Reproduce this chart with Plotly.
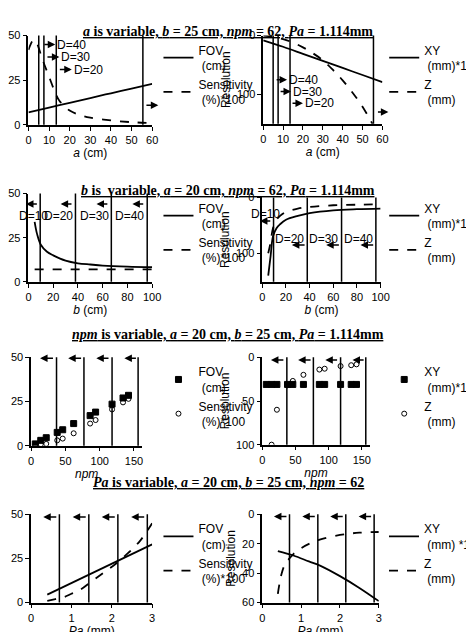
import plotly.graph_objects as go

W, H = 474, 632

# ---- data: a variable ----
a_fov_x = [0, 10, 20, 30, 40, 50, 60]
a_fov_y = [7, 9.7, 12.3, 15, 17.7, 20.3, 23]
a_sens_x = [0, 1, 2, 3, 4, 5, 7, 10, 13, 15, 20, 25, 30, 40, 50, 60]
a_sens_y = [42, 45, 47, 47.5, 46, 43, 36, 27, 18, 13.5, 8, 5.5, 4, 2.5, 1.5, 1]
a_xy_x = [0, 10, 20, 30, 40, 50, 60]
a_xy_y = [8, 19, 31, 43, 55, 67, 79]
a_z_x = [0, 5, 10, 15, 20, 25, 30, 35, 40, 45, 50, 55]
a_z_y = [0, 2, 6, 12, 20, 30, 42, 58, 76, 97, 121, 150]
a_d = [5, 7.5, 13.5, 55.5]

# ---- data: b variable ----
b_fov_x = [5, 7, 10, 15, 20, 30, 40, 50, 60, 80, 100]
b_fov_y = [34, 27, 21, 17, 15, 12, 10.5, 9.8, 9.2, 8.6, 8.3]
b_sens_x = [5, 100]
b_sens_y = [7, 7]
b_xy_x = [5, 7, 9, 12, 15, 20, 30, 40, 60, 80, 100]
b_xy_y = [140, 105, 70, 55, 48, 40, 33, 28, 23, 21, 20]
b_z_x = [5, 7, 9, 12, 15, 20, 30, 40, 60, 80, 100]
b_z_y = [100, 80, 55, 40, 33, 26, 20, 17, 14, 13, 12]
b_d = [9.5, 38, 67, 96]

# ---- data: npm variable ----
npm = [6, 14, 22, 38, 46, 62, 86, 94, 118, 134, 142]
npm_fov = [1, 3, 4.5, 7.5, 9, 12.5, 17, 19, 23.5, 27, 28.5]
npm_sens = [0.5, 0.8, 1, 3, 4, 7, 12.5, 14.5, 20.5, 24.5, 26.5]
npm_xy = [31] * 11
npm_z_x = [14, 22, 38, 46, 62, 86, 94, 118, 134, 142]
npm_z = [100, 60, 32, 27, 20, 14, 13, 10, 9, 8]
npm_d = [37, 77, 118, 156]

# ---- data: Pa variable ----
pa_fov_x = [0.4, 3]
pa_fov_y = [4.5, 33]
pa_sens_x = [0.4, 0.6, 0.8, 1.0, 1.2, 1.5, 1.8, 2.1, 2.4, 2.7, 3.0]
pa_sens_y = [1, 2, 3, 5, 7, 12, 17, 22, 28, 35, 45]
pa_xy_x = [0.4, 0.8, 1.2, 1.5, 2.0, 2.5, 3.0]
pa_xy_y = [25, 28, 32, 35, 42, 50, 59]
pa_z_x = [0.4, 0.45, 0.5, 0.6, 0.7, 0.8, 1.0, 1.25, 1.5, 2.0, 2.5, 3.0]
pa_z_y = [54, 46, 40, 33, 30, 27, 23, 19.5, 17, 14, 12.5, 12]
pa_d = [0.7, 1.43, 2.15, 2.88]

FONT = "Liberation Sans"
fig = go.Figure()

def px2x(p):
    return p / W

def px2y(p):
    return 1 - p / H

def sid(n):
    return "" if n == 1 else str(n)

def axes(n, xl, xr, yt, yb, xrange, yrange, xdtick, ydtick, xtitle, ytitle=None):
    ax = dict(domain=[px2x(xl), px2x(xr)], range=xrange, dtick=xdtick, showgrid=False,
              zeroline=False, showline=True, linecolor="black", linewidth=1.5,
              ticks="outside", ticklen=4, tickcolor="black",
              anchor="y" + sid(n), title=dict(text=xtitle, standoff=2, font=dict(size=12)))
    ay = dict(domain=[px2y(yb), px2y(yt)], range=yrange, dtick=ydtick, showgrid=False,
              zeroline=False, showline=True, linecolor="black", linewidth=1.5,
              ticks="outside", ticklen=4, tickcolor="black", anchor="x" + sid(n))
    if ytitle:
        ay["title"] = dict(text=ytitle, standoff=4, font=dict(size=12))
    fig.update_layout(**{"xaxis" + sid(n): ax, "yaxis" + sid(n): ay})

def line(n, x, y, name, dash, leg):
    fig.add_trace(go.Scatter(x=x, y=y, mode="lines", name=name, xaxis="x" + sid(n), yaxis="y" + sid(n),
                             line=dict(color="black", width=1.8, dash=dash, shape="spline"),
                             legend=leg))

def pts(n, x, y, name, sym, leg):
    fig.add_trace(go.Scatter(x=x, y=y, mode="markers", name=name, xaxis="x" + sid(n), yaxis="y" + sid(n),
                             marker=dict(color="black", size=6 if sym == "square" else 5, symbol=sym,
                                         line=dict(color="black", width=1)),
                             legend=leg))

def dlines(n, xs):
    for x in xs:
        fig.add_shape(type="line", xref="x" + sid(n), yref="y%s domain" % sid(n), x0=x, x1=x, y0=0, y1=1,
                      line=dict(color="black", width=1.5))

def arrow(n, x0, x1, y):
    fig.add_annotation(xref="x" + sid(n), yref="y" + sid(n), axref="x" + sid(n), ayref="y" + sid(n),
                       x=x1, y=y, ax=x0, ay=y, text="", showarrow=True,
                       arrowhead=2, arrowsize=1, arrowwidth=1.5, arrowcolor="black")

def label(n, x, y, txt, anchor="left"):
    fig.add_annotation(xref="x" + sid(n), yref="y" + sid(n), x=x, y=y, text=txt, showarrow=False,
                       xanchor=anchor, font=dict(size=12, family=FONT, color="black"))

def title(ypx, txt):
    fig.add_annotation(xref="paper", yref="paper", x=0.5, y=px2y(ypx), text=txt, showarrow=False,
                       font=dict(size=14, family="Liberation Serif", color="black"))

L = (16, 153)
R = (276, 408)

# row 1
title(8, "<u><b><i>a</i> is variable, <i>b</i> = 25 cm, <i>npm</i> = 62, <i>Pa</i> = 1.114mm</b></u>")
axes(1, *L, 22, 113, [0, 60], [0, 50], 10, 25, "<i>a</i> (cm)")
line(1, a_fov_x, a_fov_y, "FOV<br> (cm)", "solid", "legend")
line(1, a_sens_x, a_sens_y, "Sensitivity<br> (%)*100", "dash", "legend")
dlines(1, a_d)
for x0, x1, y, t in [(7, 13, 45, "D=40"), (8.5, 15, 38, "D=30"), (14.5, 21, 31, "D=20"), (56.5, 63, 11, "D=10")]:
    arrow(1, x0, x1, y); label(1, x1, y, t)
axes(2, *R, 22, 112, [0, 60], [150, 0], 10, 100, "<i>a</i> (cm)", "Resolution")
line(2, a_xy_x, a_xy_y, "XY<br> (mm)*10", "solid", "legend2")
line(2, a_z_x, a_z_y, "Z<br> (mm)", "dash", "legend2")
dlines(2, a_d)
for x0, x1, y, t in [(6, 12, 75, "D=40"), (8, 14, 95, "D=30"), (14, 20, 115, "D=20"), (57, 63, 130, "D=10")]:
    arrow(2, x0, x1, y); label(2, x1, y, t)

# row 2
title(170, "<u><b><i>b</i> is  variable, <i>a</i> = 20 cm, <i>npm</i> = 62, <i>Pa</i> = 1.114mm</b></u>")
axes(3, *L, 183, 273, [0, 100], [0, 50], 20, 25, "<i>b</i> (cm)")
line(3, b_fov_x, b_fov_y, "FOV<br> (cm)", "solid", "legend3")
line(3, b_sens_x, b_sens_y, "Sensitivity<br> (%)*100", "dash", "legend3")
dlines(3, b_d)
for x0, x1, t, c in [(8, -2, "D=10", 4), (36, 26, "D=20", 24), (65, 55, "D=30", 53), (94, 84, "D=40", 82)]:
    arrow(3, x0, x1, 44); label(3, c, 37.5, t, "center")
axes(4, 275, 406, 187, 273, [0, 100], [151, 0], 20, 100, "<i>b</i> (cm)", "Resolution")
line(4, b_xy_x, b_xy_y, "XY<br> (mm)*10", "solid", "legend4")
line(4, b_z_x, b_z_y, "Z<br> (mm)", "dash", "legend4")
dlines(4, b_d)
arrow(4, 8, -2, 42); label(4, 3, 30, "D=10", "center")
for x0, x1, t, c in [(37, 25, "D=20", 23), (66, 54, "D=30", 52), (95, 83, "D=40", 81)]:
    arrow(4, x0, x1, 85); label(4, c, 74, t, "center")

# row 3
title(327, "<u><b><i>npm</i> is variable, <i>a</i> = 20 cm, <i>b</i> = 25 cm, <i>Pa</i> = 1.114mm</b></u>")
axes(5, 19, 142, 350, 440, [0, 162], [0, 50], 50, 25, "<i>npm</i>")
pts(5, npm, npm_fov, "FOV<br> (cm)", "square", "legend5")
pts(5, npm, npm_sens, "Sensitivity<br> (%)*100", "circle-open", "legend5")
dlines(5, npm_d)
for x0, x1, t, c in [(34, 13, "D=10", 18), (75, 54, "D=20", 62), (115, 95, "D=30", 99), (155, 136, "D=40", 140)]:
    arrow(5, x0, x1, 49.5); label(5, c, 54, t, "center")
axes(6, 275, 394, 350, 439, [0, 162], [100, 0], 50, 50, "<i>npm</i>", "Resolution")
pts(6, npm, npm_xy, "XY<br> (mm)*10", "square", "legend6")
pts(6, npm_z_x, npm_z, "Z<br> (mm)", "circle-open", "legend6")
dlines(6, npm_d)
for x0, x1, t, c in [(34, 13, "D=10", 18), (75, 54, "D=20", 62), (115, 95, "D=30", 99), (155, 136, "D=40", 140)]:
    arrow(6, x0, x1, 3); label(6, c, -5, t, "center")

# row 4
title(487, "<u><b><i>Pa</i> is variable, <i>a</i> = 20 cm, <i>b</i> = 25 cm, <i>npm</i> = 62</b></u>")
axes(7, 19, 153, 510, 600, [0, 3], [0, 50], 1, 25, "<i>Pa</i> (mm)")
line(7, pa_fov_x, pa_fov_y, "FOV<br> (cm)", "solid", "legend7")
line(7, pa_sens_x, pa_sens_y, "Sensitivity<br> (%)*100", "dash", "legend7")
dlines(7, pa_d)
for x0, x1, t, c in [(0.66, 0.3, "D=10", 0.37), (1.39, 1.03, "D=20", 1.12), (2.11, 1.75, "D=30", 1.8), (2.84, 2.48, "D=40", 2.54)]:
    arrow(7, x0, x1, 48.5); label(7, c, 54, t, "center")
axes(8, 275, 404, 510, 600, [0, 3], [60, 0], 1, 20, "<i>Pa</i> (mm)", "Resolution")
line(8, pa_xy_x, pa_xy_y, "XY<br> (mm) *10", "solid", "legend8")
line(8, pa_z_x, pa_z_y, "Z<br> (mm)", "dash", "legend8")
dlines(8, pa_d)
for x0, x1, t, c in [(0.66, 0.3, "D=10", 0.37), (1.39, 1.03, "D=20", 1.12), (2.11, 1.75, "D=30", 1.8), (2.84, 2.48, "D=40", 2.54)]:
    arrow(8, x0, x1, 1.5); label(8, c, -3.5, t, "center")

legpos = {"legend": (160, 22), "legend2": (410, 22), "legend3": (160, 183), "legend4": (410, 183),
          "legend5": (160, 350), "legend6": (410, 350), "legend7": (160, 510), "legend8": (410, 510)}
legs = {}
for k, (lx, ly) in legpos.items():
    legs[k] = dict(x=px2x(lx), y=px2y(ly), xanchor="left", yanchor="top", bgcolor="rgba(0,0,0,0)",
                   font=dict(size=12, family=FONT, color="black"), itemwidth=30,
                   tracegroupgap=2, itemclick=False)
fig.update_layout(**legs)

fig.update_layout(width=W, height=H, margin=dict(l=0, r=0, t=0, b=0),
                  plot_bgcolor="white", paper_bgcolor="white",
                  font=dict(family=FONT, size=11, color="black"), showlegend=True)

fig.write_html("out.html")
